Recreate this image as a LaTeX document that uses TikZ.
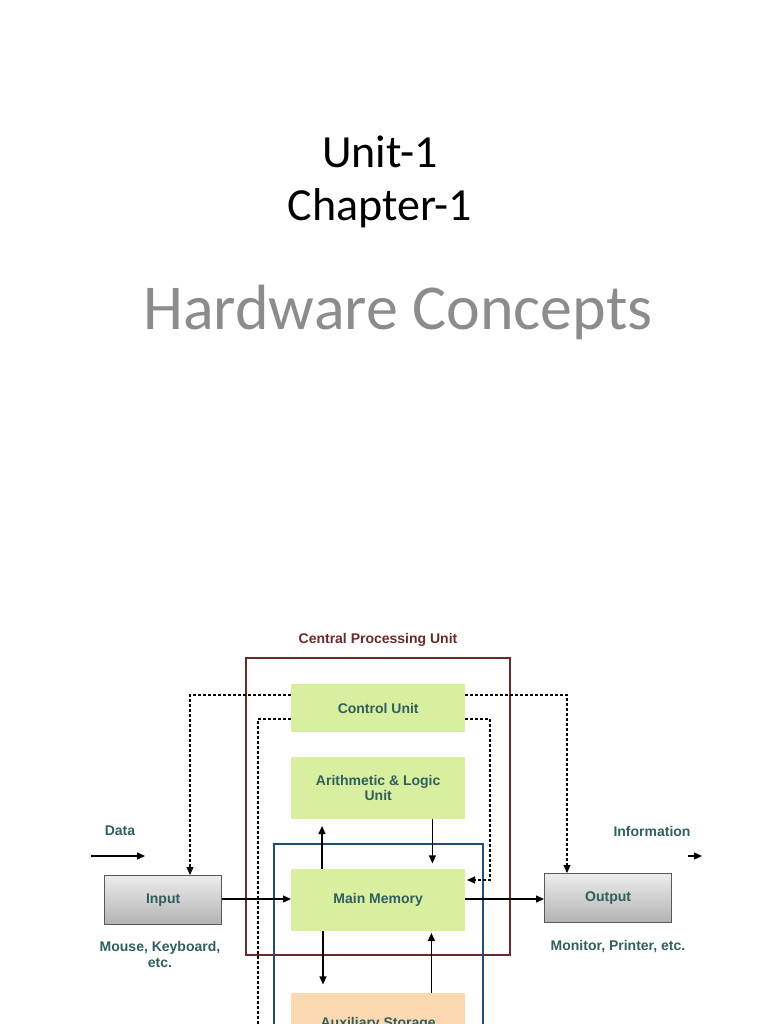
\documentclass[tikz,border=0pt]{standalone}
\usepackage{fontspec}
\setmainfont{Carlito}
\newfontfamily\diag{Liberation Sans}
\usetikzlibrary{arrows.meta}
\definecolor{grn}{HTML}{D8EFA0}
\definecolor{org}{HTML}{FCD9B0}
\definecolor{cpu}{HTML}{6B2A2A}
\definecolor{blu}{HTML}{1F4E79}
\definecolor{tcol}{HTML}{2F5F5F}
\tikzset{
 unitbox/.style={fill=grn,draw=none,font=\diag\bfseries\fontsize{14}{15}\selectfont,text=tcol},
 iobox/.style={draw=gray!70!black,line width=1.3pt,top color=gray!15,bottom color=gray!60,font=\diag\bfseries\fontsize{14}{15}\selectfont,text=tcol},
 lbl/.style={font=\diag\bfseries\fontsize{14}{16}\selectfont,text=tcol,align=center},
 ar/.style={-{Triangle[length=8pt,width=7pt]},line width=1.2pt},
 dline/.style={line width=1.1pt,dash pattern=on 3pt off 2pt},
 dar/.style={dline,-{Triangle[length=8pt,width=7pt]}}
}
\begin{document}
\begin{tikzpicture}[x=1pt,y=-1pt]
\useasboundingbox (0,0) rectangle (768,1024);
\clip (0,0) rectangle (768,1024);
\node[font=\fontsize{46}{52}\selectfont] (t1) at (380,152) {Unit-1};
\node[font=\fontsize{46}{52}\selectfont] (t2) at (380,208) {Chapter-1};
\node[font=\fontsize{64}{70}\selectfont,text=gray!90] (t3) at (398,312) {Hardware Concepts};

\node[lbl,text=cpu] (cpul) at (378,640) {Central Processing Unit};
\draw[cpu,line width=2pt] (246,658) rectangle (510,955);
\draw[blu,line width=2pt] (274,844) rectangle (483,1040);

\node[unitbox,minimum width=174,minimum height=48,anchor=north west] (cu) at (291,684) {Control Unit};
\node[unitbox,minimum width=174,minimum height=62,anchor=north west,align=center] (alu) at (291,757) {Arithmetic \& Logic\\Unit};
\node[unitbox,minimum width=174,minimum height=62,anchor=north west] (mm) at (291,869) {Main Memory};
\node[unitbox,fill=org,minimum width=174,minimum height=62,anchor=north west] (aux) at (291,993) {Auxiliary Storage};

\node[iobox,minimum width=117,minimum height=49,anchor=north west] (in) at (104,875) {Input};
\node[iobox,minimum width=127,minimum height=49,anchor=north west] (out) at (544,873) {Output};

\node[lbl] (data) at (120,831) {Data};
\node[lbl] (info) at (652,831) {Information};
\node[lbl] (mk) at (160,954) {Mouse, Keyboard,\\etc.};
\node[lbl] (mp) at (618,946) {Monitor, Printer, etc.};
\coordinate (d1) at (91,856); \coordinate (d2) at (145,856);
\coordinate (i1) at (688,856); \coordinate (i2) at (702,856);
\draw[ar] (d1) -- (d2);
\draw[ar] (i1) -- (i2);

\draw[ar] (in.east|-0,899) -- (mm.west|-0,899);
\draw[ar] (mm.east|-0,899) -- (out.west|-0,899);
\draw[ar] (mm.north west)++(31,0) -- ++(0,-43);
\draw[ar] (alu.south east)++(-33,0) -- ++(0,44);
\draw[ar] (mm.south west)++(32,0) -- ++(0,53);
\draw[ar] (aux.north east)++(-34,0) -- ++(0,-60);

\coordinate (lend) at (258,1040);
\draw[dar] (cu.west|-0,695) -| (in.north west-|190,0);
\draw[dar] (cu.east|-0,695) -| (out.north west-|567,0);
\draw[dline] (cu.west|-0,719) -- (258,719) -- (lend);
\draw[dar] (cu.east|-0,719) -- (490,719) -- (490,880) -- (467,880);
\end{tikzpicture}
\end{document}
